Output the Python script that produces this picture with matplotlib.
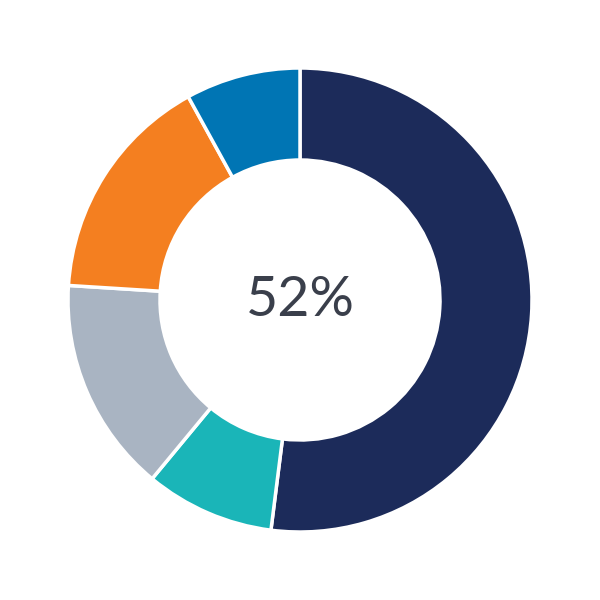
import matplotlib.pyplot as plt

valores = [52, 9, 15, 16, 8]
cores = ['#1c2b5a', '#1ab5b8', '#a9b4c2', '#f47f20', '#0075b4']
rotulo_centro = '52%'

fig = plt.figure(figsize=(6, 6), dpi=100)
ax = fig.add_axes([0, 0, 1, 1])

ax.pie(valores, colors=cores, startangle=90, counterclock=False,
       radius=232, center=(0, 0), frame=True,
       wedgeprops=dict(width=92, edgecolor='white', linewidth=2.5))

ax.text(0, 0, rotulo_centro, ha='center', va='center',
        fontsize=40, family='Lato', color='#3a3f4b')

ax.set_xlim(-300, 300)
ax.set_ylim(-300, 300)
ax.set_aspect('equal')
ax.axis('off')

fig.savefig('out.png', dpi=100, facecolor='white')
